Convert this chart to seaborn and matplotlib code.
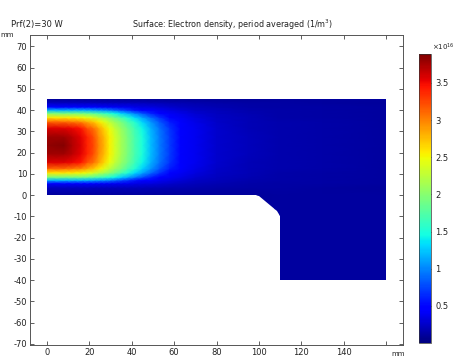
import numpy as np
import matplotlib
matplotlib.use("Agg")
import matplotlib.pyplot as plt
import seaborn as sns
from matplotlib.patches import Polygon

sns.set_theme(style="white")
plt.rcParams["font.family"] = ["DejaVu Sans"]
plt.rcParams["axes.unicode_minus"] = False

# ---- data (density in 1e16 1/m^3, lengths in mm) ----
# sample columns along the channel
x_nodes = [0, 8, 12, 16, 19, 22, 24.5, 27, 29.5, 32, 35, 38, 41.5, 45, 49,
           53, 58, 63, 70, 80, 95, 110, 130, 160]
# distance from channel centre line (y = 23.5 mm); last entry = wall
dy_nodes = [0, 4, 8, 11, 13, 15, 16.5, 18, 20, 23.5]
channel_center = 23.5
# density read at (x, centre +/- dy), one row per x column
density_half = [
    [3.82, 3.78, 3.58, 3.12, 2.59, 1.95, 1.18, 0.43, 0.215, 0.10],
    [3.86, 3.78, 3.56, 3.10, 2.58, 1.91, 1.17, 0.43, 0.215, 0.10],
    [3.72, 3.68, 3.52, 3.05, 2.56, 1.90, 1.17, 0.43, 0.215, 0.10],
    [3.58, 3.55, 3.45, 2.98, 2.52, 1.89, 1.16, 0.43, 0.215, 0.10],
    [3.40, 3.39, 3.21, 2.85, 2.46, 1.84, 1.14, 0.43, 0.215, 0.10],
    [3.25, 3.22, 3.08, 2.72, 2.36, 1.77, 1.10, 0.43, 0.21, 0.10],
    [2.98, 2.95, 2.86, 2.57, 2.24, 1.70, 1.06, 0.42, 0.21, 0.10],
    [2.80, 2.78, 2.67, 2.43, 2.13, 1.62, 1.02, 0.42, 0.21, 0.10],
    [2.54, 2.54, 2.47, 2.26, 2.01, 1.53, 0.96, 0.41, 0.21, 0.10],
    [2.37, 2.36, 2.29, 2.11, 1.88, 1.43, 0.88, 0.41, 0.21, 0.10],
    [2.13, 2.13, 2.08, 1.94, 1.69, 1.28, 0.77, 0.395, 0.21, 0.10],
    [1.95, 1.94, 1.89, 1.73, 1.53, 1.14, 0.67, 0.38, 0.205, 0.10],
    [1.70, 1.70, 1.65, 1.525, 1.32, 0.97, 0.55, 0.36, 0.20, 0.10],
    [1.49, 1.49, 1.44, 1.30, 1.11, 0.80, 0.47, 0.34, 0.20, 0.10],
    [1.21, 1.21, 1.17, 1.05, 0.89, 0.62, 0.43, 0.32, 0.19, 0.10],
    [0.97, 0.96, 0.93, 0.83, 0.69, 0.48, 0.39, 0.29, 0.185, 0.10],
    [0.71, 0.71, 0.68, 0.59, 0.485, 0.41, 0.34, 0.26, 0.177, 0.10],
    [0.49, 0.49, 0.48, 0.45, 0.41, 0.35, 0.30, 0.236, 0.17, 0.10],
    [0.386, 0.385, 0.38, 0.355, 0.327, 0.283, 0.243, 0.21, 0.157, 0.10],
    [0.27, 0.27, 0.26, 0.25, 0.24, 0.223, 0.205, 0.18, 0.148, 0.10],
    [0.20, 0.20, 0.197, 0.193, 0.185, 0.172, 0.16, 0.15, 0.135, 0.10],
    [0.16, 0.16, 0.16, 0.155, 0.151, 0.145, 0.14, 0.135, 0.125, 0.12],
    [0.14, 0.14, 0.14, 0.138, 0.135, 0.13, 0.127, 0.123, 0.116, 0.11],
    [0.12, 0.12, 0.12, 0.12, 0.118, 0.115, 0.113, 0.11, 0.105, 0.11],
]
chamber_bottom_y = -40
chamber_density = 0.11
top_wall_y = 45

domain_x = [0, 0, 160, 160, 110, 110, 108.5, 100, 98.5]
domain_y = [0, 45, 45, -40, -40, -10, -7.5, -0.5, 0]

x_ticks = [0, 20, 40, 60, 80, 100, 120, 140, 160]
x_tick_labels = ["0", "20", "40", "60", "80", "100", "120", "140", ""]
y_ticks = [-70, -60, -50, -40, -30, -20, -10, 0, 10, 20, 30, 40, 50, 60, 70]
cbar_ticks = [0.5, 1, 1.5, 2, 2.5, 3, 3.5]
cbar_tick_labels = ["0.5", "1", "1.5", "2", "2.5", "3", "3.5"]
vmin, vmax = 0.0, 3.89

title_text = "Surface: Electron density, period averaged (1/m$^3$)"
param_text = "Prf(2)=30 W"

# ---- assemble the sampled field (mirror about the centre line) ----
dy = np.array(dy_nodes)
y_bottom = channel_center - dy[::-1]          # wall (0) ... centre
y_top = np.minimum(channel_center + dy[1:], top_wall_y)
y_full = np.concatenate([[chamber_bottom_y], y_bottom, y_top])
cols = []
for col in density_half:
    c = np.array(col)
    cols.append(np.concatenate([[chamber_density], c[::-1], c[1:]]))
Z = np.array(cols).T

# ---- figure ----
W, H = 470, 363
fig = plt.figure(figsize=(W / 100, H / 100), dpi=100)
ax = fig.add_axes([30 / W, 18 / H, 373 / W, 310 / H])

mesh = ax.pcolormesh(x_nodes, y_full, Z, shading="gouraud", cmap="jet",
                     vmin=vmin, vmax=vmax, rasterized=True)
poly = Polygon(np.column_stack([domain_x, domain_y]), closed=True,
               facecolor="none", edgecolor="none", transform=ax.transData)
ax.add_patch(poly)
mesh.set_clip_path(poly)

ax.set_xlim(-8, 168)
ax.set_ylim(-70.5, 75.3)
ax.set_xticks(x_ticks)
ax.set_xticklabels(x_tick_labels)
ax.set_yticks(y_ticks)
ax.set_yticklabels([str(v) for v in y_ticks])
ax.tick_params(direction="in", top=True, right=True, bottom=True, left=True,
               length=3, width=0.6, labelsize=6, pad=2, colors="#444444",
               labelcolor="#222222")
for s in ax.spines.values():
    s.set_linewidth(0.7)
    s.set_color("#555555")
ax.grid(False)
ax.set_facecolor("white")

fig.text(398 / W, 1 - 354 / H, "mm", ha="center", va="center", fontsize=5,
         color="#222222")
fig.text(14 / W, 1 - 35 / H, "mm", ha="right", va="center", fontsize=5,
         color="#222222")
fig.text(233 / W, 1 - 25 / H, title_text, ha="center", va="center",
         fontsize=5.8, color="#222222")
fig.text(11 / W, 1 - 25 / H, param_text, ha="left", va="center",
         fontsize=6, color="#222222")

cax = fig.add_axes([419 / W, 20 / H, 12 / W, 289 / H])
cb = fig.colorbar(mesh, cax=cax, ticks=cbar_ticks)
cb.ax.set_yticklabels(cbar_tick_labels)
cb.ax.tick_params(labelsize=6, length=2, width=0.5, pad=3, colors="#444444",
                  labelcolor="#222222", right=True, direction="in")
cb.outline.set_linewidth(0.5)
cb.outline.set_edgecolor("#333333")
fig.text(443 / W, 1 - 47 / H, "\u00d710$^{16}$", ha="center", va="center",
         fontsize=5, color="#222222")

fig.savefig("out.png", dpi=100)
